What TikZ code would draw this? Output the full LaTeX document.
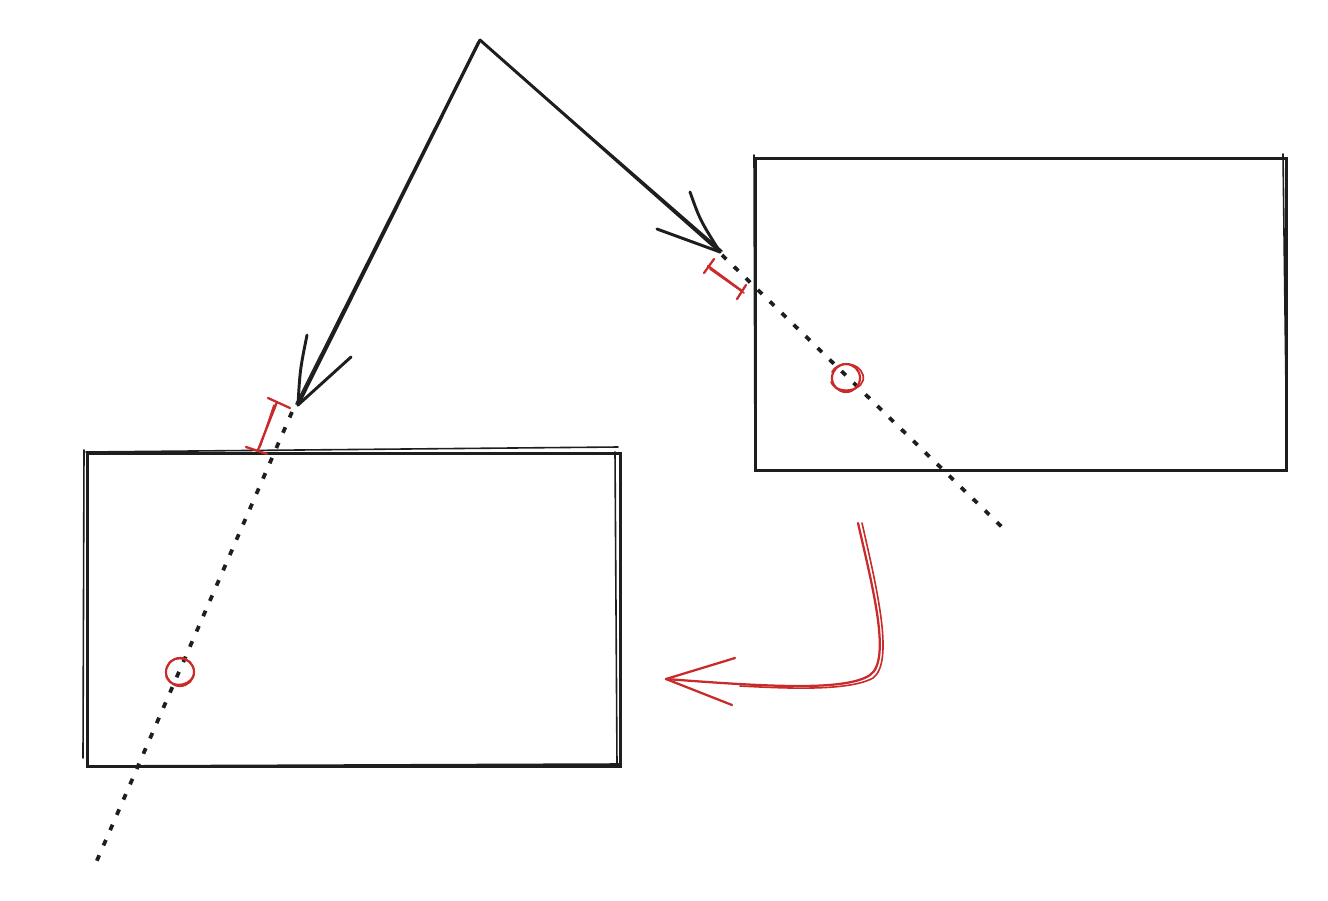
\documentclass[tikz,border=0pt]{standalone}
\usepackage{tikz}
\definecolor{ink}{HTML}{1E1E1E}
\definecolor{redink}{HTML}{C92A2A}
\tikzset{
  blk/.style={draw=ink, line width=2.2pt, line cap=round, line join=round},
  box/.style={draw=ink, line width=2.2pt, rectangle, inner sep=0pt},
  dots/.style={draw=ink, line width=2.8pt, dash pattern=on 4.5pt off 8pt},
  redl/.style={draw=redink, line width=1.7pt, line cap=round, line join=round},
}
\begin{document}
\begin{tikzpicture}[x=0.75pt,y=-0.75pt]
\useasboundingbox (0,0) rectangle (1328,900);
% rectangles
\node[box, minimum width=531*0.75pt, minimum height=312*0.75pt, anchor=north west] (R) at (754,157) {};
\node[box, minimum width=533*0.75pt, minimum height=313*0.75pt, anchor=north west] (L) at (86,452) {};
% sketchy overshoots
\draw[blk, line width=1.2pt] (754,155) -- (755,470);
\draw[blk, line width=1.2pt] (1283,154) -- (1287,471);
\draw[blk, line width=1.2pt] (84,450) -- (83,758);
\draw[blk, line width=1.2pt] (86,452) -- (618,447);
\draw[blk, line width=1.2pt] (615,452) -- (617,765);
\draw[blk, line width=1.2pt] (88,766) -- (620,764);
% coordinates
\coordinate (apex) at (480,40);
\coordinate (tipL) at (298,405);
\coordinate (tipR) at (720,252);
\coordinate (dR1) at (722,255);
\coordinate (dR2) at (1005,530);
\coordinate (dL1) at (292,412);
\coordinate (dL2) at (95,865);
% black arrows
\draw[blk] (apex) -- (tipR);
\draw[blk, line width=1.2pt] (482,42) -- (722,251);
\draw[blk] (apex) -- (tipL);
\draw[blk, line width=1.2pt] (478,42) -- (296,404);
\draw[blk] (690,192) .. controls (700,220) .. (tipR);
\draw[blk] (657,229) -- (tipR);
\draw[blk] (307,335) .. controls (300,370) .. (tipL);
\draw[blk] (351,357) -- (tipL);
% dotted lines
\draw[dots] (dR1) -- (dR2);
\draw[dots] (dL1) -- (dL2);
% red markers
\coordinate (mR1) at (708,266);
\coordinate (mR2) at (742,291);
\draw[redl] (mR1) -- (mR2);
\draw[redl, line width=1.2pt] (710,269) -- (744,293);
\draw[redl] (704,273) -- (714,259);
\draw[redl] (737,299) -- (746,285);
\coordinate (mL1) at (277,402);
\coordinate (mL2) at (258,450);
\draw[redl] (mL1) -- (mL2);
\draw[redl, line width=1.2pt] (274,405) -- (260,447);
\draw[redl] (268,398) -- (290,408);
\draw[redl] (246,447) -- (267,454);
% red circles
\node[draw=redink, line width=1.6pt, circle, minimum size=28*0.75pt, inner sep=0pt] (cR) at (846,378) {};
\draw[redl, line width=1.3pt] (832,372) .. controls (837,361) and (859,361) .. (863,375) .. controls (867,391) and (837,396) .. (831,382);
\node[draw=redink, line width=1.6pt, circle, minimum size=28*0.75pt, inner sep=0pt] (cL) at (180,672) {};
\draw[redl, line width=1.3pt] (167,668) .. controls (169,655) and (191,655) .. (194,670) .. controls (196,685) and (171,691) .. (166,676);
% red curved arrow
\coordinate (cs) at (858,523);
\coordinate (ct) at (666,679);
\draw[redl] (cs) .. controls (872,585) and (892,660) .. (870,675) .. controls (845,692) and (760,686) .. (ct);
\draw[redl, line width=1.2pt] (862,523) .. controls (876,585) and (895,662) .. (873,678) .. controls (848,692) and (780,688) .. (740,686);
\draw[redl] (735,658) -- (ct);
\draw[redl] (732,705) -- (ct);
\end{tikzpicture}
\end{document}
